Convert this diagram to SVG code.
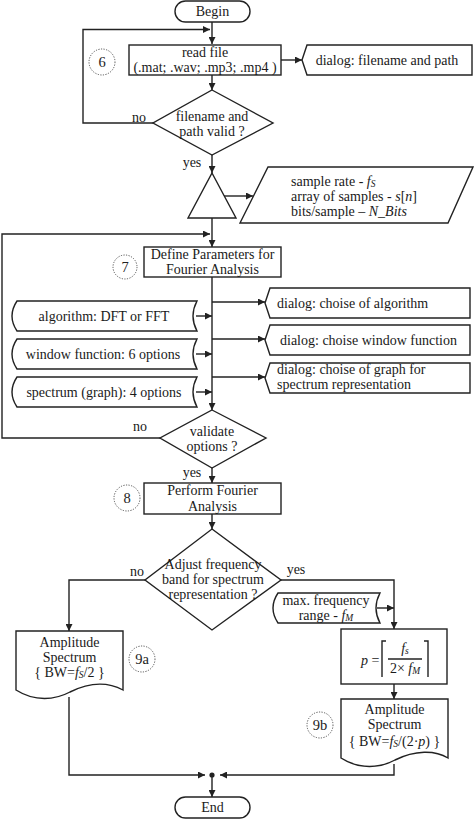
<svg xmlns="http://www.w3.org/2000/svg" width="474" height="820" viewBox="0 0 474 820">
<defs>
<marker id="ah" viewBox="0 0 10 10" refX="10" refY="5" markerWidth="9" markerHeight="7" markerUnits="userSpaceOnUse" orient="auto">
<path d="M0,0 L10,5 L0,10 Z" fill="#222"/>
</marker>
</defs>
<style>
.s{fill:#fff;stroke:#222;stroke-width:1.4}
.c{fill:none;stroke:#222;stroke-width:1.4}
.a{marker-end:url(#ah)}
.t{font-family:"Liberation Serif","DejaVu Serif",serif;font-size:14px;fill:#1a1a1a}
.m{text-anchor:middle}
.lb{fill:#fff;stroke:#444;stroke-width:0.9;stroke-dasharray:1.2 1.4}
.n{font-family:"Liberation Serif","DejaVu Serif",serif;font-size:14.5px;fill:#222;text-anchor:middle}
.i{font-style:italic}
.sb{font-style:italic;font-size:9.5px}
</style>
<rect width="474" height="820" fill="#fff"/>

<g id="connectors">
<path class="c a" d="M212,22 V44"/>
<path class="c a" d="M153,123 H83 V29.5 H210"/>
<path class="c a" d="M281,60 H302"/>
<path class="c a" d="M212,75 V90"/>
<path class="c a" d="M212,155 V173"/>
<path class="c a" d="M224,196 H253"/>
<path class="c a" d="M212,218 V247"/>
<path class="c a" d="M160,438 H2 V234 H210"/>
<path class="c a" d="M212,277 V410"/>
<path class="c a" d="M212,302 H265"/>
<path class="c a" d="M212,339 H265"/>
<path class="c a" d="M212,377 H265"/>
<path class="c a" d="M196,316 H212"/>
<path class="c a" d="M196,354 H212"/>
<path class="c a" d="M196,392 H212"/>
<path class="c a" d="M212,468 V483"/>
<path class="c a" d="M212,514 V529"/>
<path class="c a" d="M145,580 H69 V631"/>
<path class="c a" d="M281,580 H394 V629"/>
<path class="c a" d="M377,608 H394"/>
<path class="c a" d="M394,684 V699"/>
<path class="c a" d="M69,697 V775 H205"/>
<path class="c a" d="M394,764 V775 H220"/>
<circle cx="212" cy="775" r="2.6" fill="#222"/>
<path class="c a" d="M212,777 V797"/>
<text class="t m" x="139" y="122">no</text>
<text class="t m" x="192" y="167">yes</text>
<text class="t m" x="140" y="431">no</text>
<text class="t m" x="192" y="477">yes</text>
<text class="t m" x="137" y="576">no</text>
<text class="t m" x="296" y="574">yes</text>
</g>

<g id="begin">
<rect class="s" x="175" y="1" width="75" height="21" rx="10.5"/>
<text class="t m" x="212.5" y="16">Begin</text>
</g>

<g id="readfile">
<rect class="s" x="129" y="45" width="152" height="30"/>
<text class="t m" x="205" y="56.5">read file</text>
<text class="t m" x="205" y="71.5">(.mat; .wav; .mp3; .mp4 )</text>
</g>

<g id="label6">
<circle class="lb" cx="102" cy="62" r="13"/>
<text class="n" x="102" y="67">6</text>
</g>

<g id="dialog-file">
<polygon class="s" points="307,45 472,45 472,75 307,75 302,60"/>
<text class="t m" x="387" y="65">dialog: filename and path</text>
</g>

<g id="valid-file">
<polygon class="s" points="212,90 273,123 212,155 153,123"/>
<text class="t m" x="212" y="120.5">filename and</text>
<text class="t m" x="212" y="135.5">path valid ?</text>
</g>

<g id="extract">
<polygon class="s" points="212,173 236,218 188,218"/>
</g>

<g id="file-data">
<polygon class="s" points="268,167 473,167 448,223 240,223"/>
<text class="t" x="291" y="186">sample rate - <tspan class="i">f</tspan><tspan class="sb" dy="1">S</tspan></text>
<text class="t" x="291" y="201">array of samples - <tspan class="i">s</tspan>[<tspan class="i">n</tspan>]</text>
<text class="t" x="291" y="215.5">bits/sample – <tspan class="i">N_Bits</tspan></text>
</g>

<g id="define-params">
<rect class="s" x="144" y="247" width="137" height="30"/>
<text class="t m" x="212.5" y="259">Define Parameters for</text>
<text class="t m" x="212.5" y="274">Fourier Analysis</text>
</g>

<g id="label7">
<circle class="lb" cx="125" cy="267" r="12"/>
<text class="n" x="125" y="272">7</text>
</g>

<g id="opt-algorithm">
<path class="s" d="M17,301 H197 Q189,316 197,331 H17 Q7,316 17,301 Z"/>
<text class="t m" x="104" y="320.5">algorithm: DFT or FFT</text>
</g>
<g id="opt-window">
<path class="s" d="M17,339 H197 Q189,354 197,369 H17 Q7,354 17,339 Z"/>
<text class="t m" x="103" y="358.5">window function: 6 options</text>
</g>
<g id="opt-spectrum">
<path class="s" d="M17,377 H197 Q189,392 197,407 H17 Q7,392 17,377 Z"/>
<text class="t m" x="104" y="396.5">spectrum (graph): 4 options</text>
</g>

<g id="dialog-algorithm">
<polygon class="s" points="270,288 470,288 470,318 270,318 265,303"/>
<text class="t" x="277" y="307.5">dialog: choise of algorithm</text>
</g>
<g id="dialog-window">
<polygon class="s" points="270,325 470,325 470,355 270,355 265,340"/>
<text class="t" x="280" y="344.5">dialog: choise window function</text>
</g>
<g id="dialog-graph">
<polygon class="s" points="270,363 470,363 470,393 270,393 265,378"/>
<text class="t" x="277" y="373.5">dialog: choise of graph for</text>
<text class="t" x="277" y="389">spectrum representation</text>
</g>

<g id="validate-options">
<polygon class="s" points="212,410 266,438 212,468 160,438"/>
<text class="t m" x="212" y="436">validate</text>
<text class="t m" x="212" y="451">options ?</text>
</g>

<g id="perform">
<rect class="s" x="144" y="483" width="137" height="31"/>
<text class="t m" x="212.5" y="495">Perform Fourier</text>
<text class="t m" x="212.5" y="510.5">Analysis</text>
</g>

<g id="label8">
<circle class="lb" cx="127" cy="498" r="13"/>
<text class="n" x="127" y="503">8</text>
</g>

<g id="adjust">
<polygon class="s" points="212,529 281,580 212,630 145,580"/>
<text class="t m" x="213" y="569">Adjust frequency</text>
<text class="t m" x="213" y="584">band for spectrum</text>
<text class="t m" x="213" y="599">representation ?</text>
</g>

<g id="max-freq">
<path class="s" d="M278,593 H380 Q372,608 380,623 H278 Q268,608 278,593 Z"/>
<text class="t m" x="326" y="605">max. frequency</text>
<text class="t m" x="326" y="620">range - <tspan class="i">f</tspan><tspan class="sb" dy="1">M</tspan></text>
</g>

<g id="p-calc">
<rect class="s" x="341" y="629" width="106" height="55"/>
<text class="t" x="361" y="665"><tspan class="i">p</tspan> =</text>
<path class="c" d="M386,641 H382 V677"/>
<path class="c" d="M424,641 H428 V677"/>
<path class="c" d="M388,659 H422" stroke-width="1"/>
<text class="t m" x="405" y="653"><tspan class="i">f</tspan><tspan class="sb" dy="1">s</tspan></text>
<text class="t m" x="405" y="673">2× <tspan class="i">f</tspan><tspan class="sb" dy="1">M</tspan></text>
</g>

<g id="amp-9a">
<path class="s" d="M16,631 H123 V690 C108,682 90,682 70,692 C55,700 35,702 16,690 Z"/>
<text class="t m" x="69.5" y="646.5">Amplitude</text>
<text class="t m" x="69.5" y="661.5">Spectrum</text>
<text class="t m" x="69.5" y="676.5">{ BW=<tspan class="i">f</tspan><tspan class="sb" dy="1">S</tspan><tspan dy="-1">/2 }</tspan></text>
</g>
<g id="label9a">
<circle class="lb" cx="142" cy="659" r="13"/>
<text class="n" x="142" y="664">9a</text>
</g>

<g id="amp-9b">
<path class="s" d="M341,699 H448 V758 C435,750 415,750 395,760 C380,768 360,770 341,758 Z"/>
<text class="t m" x="394.5" y="714">Amplitude</text>
<text class="t m" x="394.5" y="729">Spectrum</text>
<text class="t m" x="394.5" y="746">{ BW=<tspan class="i">f</tspan><tspan class="sb" dy="1">S</tspan><tspan dy="-1">/(2·</tspan><tspan class="i">p</tspan>) }</text>
</g>
<g id="label9b">
<circle class="lb" cx="320" cy="725" r="13"/>
<text class="n" x="320" y="730">9b</text>
</g>

<g id="end">
<rect class="s" x="175" y="797" width="75" height="21" rx="10.5"/>
<text class="t m" x="212.5" y="812">End</text>
</g>
</svg>
